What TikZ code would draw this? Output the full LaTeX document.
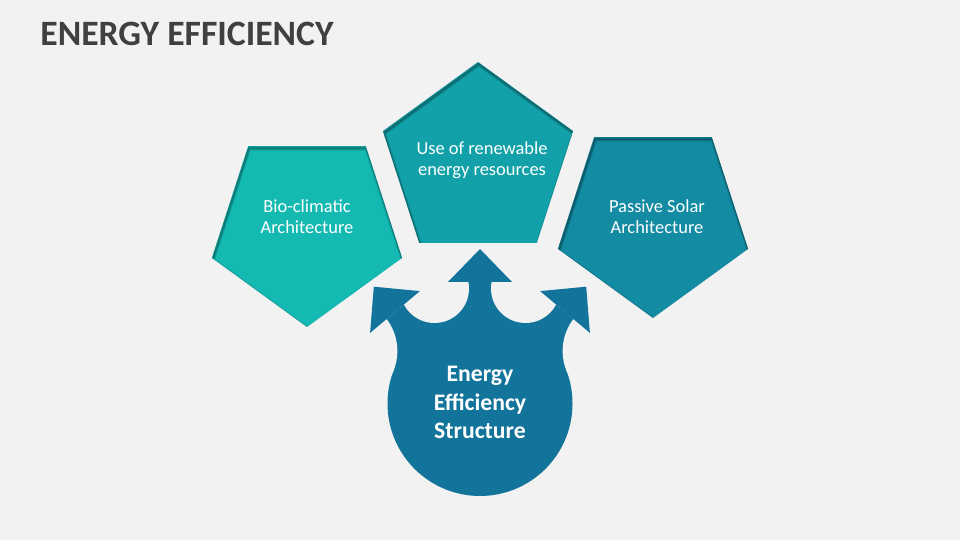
\documentclass[tikz,border=0pt]{standalone}
\usepackage{fontspec}
\setmainfont{Carlito}
\usepackage{tikz}
\usetikzlibrary{calc}

\definecolor{bgcol}{HTML}{F2F2F2}
\definecolor{titlecol}{HTML}{404040}
\definecolor{leftcol}{HTML}{14B9B2}
\definecolor{midcol}{HTML}{12A1A8}
\definecolor{rightcol}{HTML}{138BA2}
\definecolor{corecol}{HTML}{12739B}

% pentagon of circumradius 100 round the current origin
\newcommand{\pentpath}[1]{(#1+90:100) -- (#1+162:100) -- (#1+234:100) -- (#1+306:100) -- (#1+18:100) -- cycle}

\tikzset{
  pentext/.style={text=white, align=center, font=\fontsize{10.5}{12}\selectfont},
  coretext/.style={text=white, align=center, font=\fontsize{13.5}{16}\selectfont\bfseries},
  bite/.style={fill=bgcol},
}

\begin{document}
\begin{tikzpicture}[x=0.02cm, y=0.02cm]
  \useasboundingbox (0,0) rectangle (960,540);
  \fill[bgcol] (0,0) rectangle (960,540);

  \node[anchor=base west, text=titlecol, font=\fontsize{20.3}{24}\selectfont\bfseries, inner sep=0pt] (title) at (40,494) {ENERGY EFFICIENCY};

  % circle with the three arrows
  \begin{scope}[shift={(480,136.5)}]
    \fill[corecol] (0,0) circle[radius=92.5];
    \fill[corecol] (0,0) -- (-86.3,33.4) -- (-94.2,83.8) -- (-75.8,99.2) -- (-12,121.5)
      -- (12,121.5) -- (75.8,99.2) -- (94.2,83.8) -- (86.3,33.4) -- cycle;
    \foreach \s in {-1,1}{
      \fill[bite] (\s*45.5,115) circle[radius=34.5];
      \fill[bite] (\s*135.4,52.5) circle[radius=52.8];
    }
    % arrow heads
    \fill[corecol] (-32,121.5) -- (0,154.5) -- (32,121.5) -- cycle;
    \foreach \s in {-1,1}
      \fill[corecol] (\s*60.1,112.4) -- (\s*106.2,116.8) -- (\s*109.9,70.6) -- cycle;
    \node[coretext] (core) at (0,1) {Energy\\Efficiency\\Structure};
  \end{scope}

  % pentagons
  \foreach \cx/\cy/\rot/\col in {307/313/180/leftcol, 478/378/0/midcol, 653/322/180/rightcol}{
    \begin{scope}[shift={(\cx,\cy)}]
      \fill[\col] \pentpath{\rot};
      \begin{scope}
        \clip \pentpath{\rot};
        \foreach \w/\o in {2.6pt/0.08, 1.8pt/0.12, 1pt/0.16}
          \draw[black, opacity=\o, line width=\w, shift={(0.8,-2.2)}] \pentpath{\rot};
      \end{scope}
    \end{scope}
  }
  \node[pentext] (bioclim) at (307,323) {Bio-climatic\\Architecture};
  \node[pentext] (renew) at (482,380) {Use of renewable\\energy resources};
  \node[pentext] (passive) at (657,323) {Passive Solar\\Architecture};
\end{tikzpicture}
\end{document}
